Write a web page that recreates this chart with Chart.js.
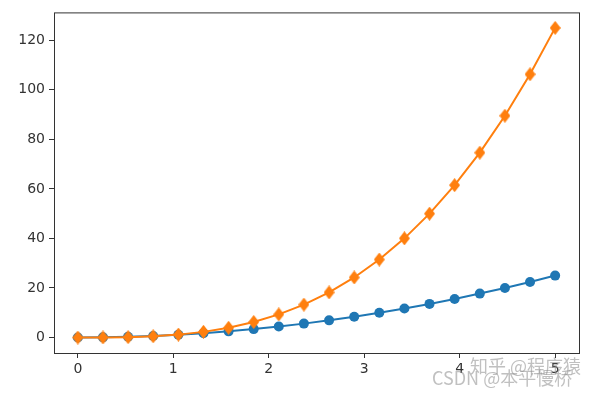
<!DOCTYPE html>
<html>
<head>
<meta charset="utf-8">
<script src="https://cdn.jsdelivr.net/npm/chart.js@4"></script>
<style>
  html, body { margin: 0; padding: 0; background: #fff; }
  #wrap { width: 600px; height: 394px; }
</style>
</head>
<body>
<div id="wrap"><canvas id="myChart"></canvas></div>
<script>
/* DATA */
const xs = [0, 0.263, 0.526, 0.789, 1.053, 1.316, 1.579, 1.842, 2.105, 2.368,
            2.632, 2.895, 3.158, 3.421, 3.684, 3.947, 4.211, 4.474, 4.737, 5.0];
const squares = [0, 0.07, 0.28, 0.62, 1.11, 1.73, 2.49, 3.39, 4.43, 5.61,
                 6.93, 8.38, 9.97, 11.70, 13.57, 15.58, 17.73, 20.01, 22.44, 25.0];
const cubes = [0, 0.02, 0.15, 0.49, 1.17, 2.28, 3.94, 6.25, 9.33, 13.28,
               18.22, 24.25, 31.49, 40.03, 50.00, 61.50, 74.64, 89.53, 106.28, 125.0];
const xTicks = [0, 1, 2, 3, 4, 5];
const yTicks = [0, 20, 40, 60, 80, 100, 120];

/* thin diamond marker like matplotlib 'd' */
function thinDiamond(color){
    const c = document.createElement('canvas');
    c.width = 11; c.height = 14;
    const g = c.getContext('2d');
    g.fillStyle = color;
    g.beginPath();
    g.moveTo(5.5, 0); g.lineTo(11, 7); g.lineTo(5.5, 14); g.lineTo(0, 7);
    g.closePath();
    g.fill();
    return c;
}

const pts = (ys) => xs.map((x, i) => ({x: x, y: ys[i]}));

const frame = {
    id: 'frame',
    afterDraw(chart){
        const {ctx, chartArea: a} = chart;
        ctx.save();
        ctx.strokeStyle = '#333';
        ctx.lineWidth = 1;
        ctx.strokeRect(a.left + 0.5, a.top + 0.5, a.right - a.left, a.bottom - a.top);
        // watermark
        ctx.font = '18px "Noto Sans CJK SC"';
        ctx.fillStyle = 'rgba(140,140,140,0.55)';
        ctx.textBaseline = 'middle';
        ctx.fillText('知乎 @程序猿', 470, 366);
        ctx.fillText('CSDN @本平慢桥', 432, 378);
        ctx.restore();
    }
};

const tickGrid = {
    display: true,
    drawOnChartArea: false,
    drawTicks: true,
    tickLength: 5,
    color: '#333'
};

const config = {
    type: 'line',
    data: {
        datasets: [{
            data: pts(squares),
            order: 1,
            borderColor: '#1f77b4',
            backgroundColor: '#1f77b4',
            borderWidth: 2,
            pointStyle: 'circle',
            pointRadius: 5,
            pointBorderWidth: 0,
            tension: 0
        }, {
            data: pts(cubes),
            order: 0,
            borderColor: '#ff7f0e',
            backgroundColor: '#ff7f0e',
            borderWidth: 2,
            pointStyle: thinDiamond('#ff7f0e'),
            tension: 0
        }]
    },
    options: {
        responsive: true,
        maintainAspectRatio: false,
        animation: false,
        layout: { padding: { left: 0, top: 11, right: 21, bottom: 0 } },
        plugins: { legend: { display: false }, tooltip: { enabled: false } },
        scales: {
            x: {
                type: 'linear',
                min: -0.25,
                max: 5.25,
                afterBuildTicks: (s) => { s.ticks = xTicks.map(v => ({value: v})); },
                afterFit: (s) => { s.height = 41; },
                grid: tickGrid,
                border: { display: false },
                ticks: { color: '#333', font: { size: 14, family: 'DejaVu Sans' }, padding: 3, maxRotation: 0 }
            },
            y: {
                type: 'linear',
                min: -6.25,
                max: 131.25,
                afterBuildTicks: (s) => { s.ticks = yTicks.map(v => ({value: v})); },
                afterFit: (s) => { s.width = 54; },
                grid: tickGrid,
                border: { display: false },
                ticks: { color: '#333', font: { size: 14, family: 'DejaVu Sans' }, padding: 4 }
            }
        }
    },
    plugins: [frame]
};

let myChart = new Chart(document.getElementById('myChart'), config);
</script>
</body>
</html>
